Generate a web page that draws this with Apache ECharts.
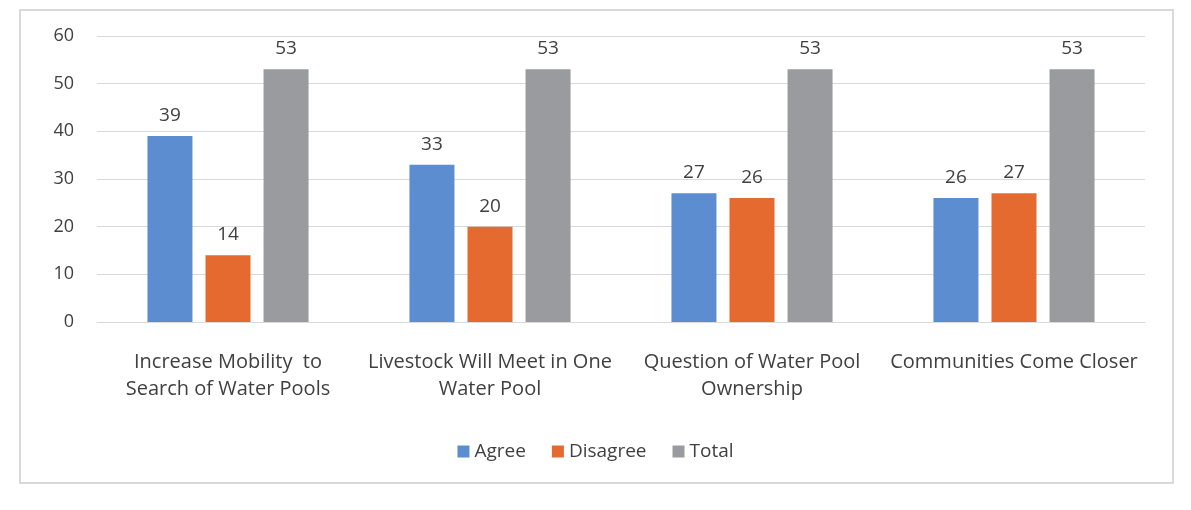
<!DOCTYPE html>
<html><head><meta charset="utf-8">
<script src="https://cdn.jsdelivr.net/npm/echarts@6/dist/echarts.min.js"></script>
<style>html,body{margin:0;padding:0;background:#fff;}#frame{position:absolute;left:19px;top:9px;width:1155px;height:475px;border:2px solid #d9d9d9;box-sizing:border-box;}#c{position:absolute;left:0;top:0;width:1191px;height:510px;}</style>
</head><body><div id="frame"></div><div id="c"></div>
<script>
const categories = ["Increase Mobility  to\nSearch of Water Pools", "Livestock Will Meet in One\nWater Pool", "Question of Water Pool\nOwnership", "Communities Come Closer"];
const agree = [39, 33, 27, 26];
const disagree = [14, 20, 26, 27];
const total = [53, 53, 53, 53];
const yTicks = [0, 10, 20, 30, 40, 50, 60];

const chart = echarts.init(document.getElementById('c'));
const font = '"Open Sans", sans-serif';
const lbl = {show: true, position: 'top', distance: 11, color: '#404040', fontSize: 19, fontFamily: font};
chart.setOption({
  animation: false,
  grid: {left: 97, right: 46, top: 36, bottom: 188},
  legend: {bottom: 44, left: 'center', itemWidth: 12, itemHeight: 12, itemGap: 26,
    textStyle: {color: '#404040', fontSize: 19, fontFamily: font}, icon: 'rect'},
  xAxis: {type: 'category', data: categories,
    axisLine: {show: true, lineStyle: {color: '#d9d9d9', width: 1}}, axisTick: {show: false},
    axisLabel: {color: '#404040', fontSize: 20, fontFamily: font, margin: 27, lineHeight: 27, interval: 0}},
  yAxis: {type: 'value', min: yTicks[0], max: yTicks[yTicks.length-1], interval: 10,
    axisLine: {show: false}, axisTick: {show: false},
    splitLine: {lineStyle: {color: '#d9d9d9', width: 1}},
    axisLabel: {color: '#404040', fontSize: 18, fontFamily: font, margin: 23, align: 'right'}},
  series: [
    {name: 'Agree', type: 'bar', data: agree, itemStyle: {color: '#5B8DD0'}, barWidth: 45, barGap: '29%', label: lbl},
    {name: 'Disagree', type: 'bar', data: disagree, itemStyle: {color: '#E46A30'}, barWidth: 45, label: lbl},
    {name: 'Total', type: 'bar', data: total, itemStyle: {color: '#999B9E'}, barWidth: 45, label: lbl}
  ]
});
</script></body></html>
